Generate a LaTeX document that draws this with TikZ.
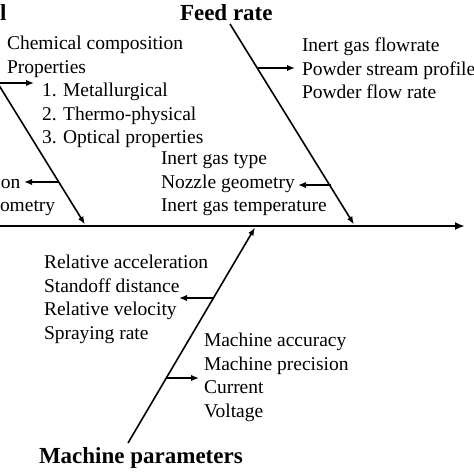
\documentclass[tikz,border=0pt]{standalone}
\usepackage{fontspec}
\setmainfont{Liberation Serif}
\usetikzlibrary{arrows.meta}
\tikzset{
  txt/.style={inner sep=0pt, outer sep=0pt, font=\fontsize{19.5}{23.4}\selectfont},
  cat/.style={inner sep=0pt, outer sep=0pt, font=\fontsize{23}{27}\selectfont\bfseries},
  spine/.style={line width=2pt, -{Latex[length=10pt,width=8pt]}},
  bone/.style={line width=1.6pt, -{Latex[length=8pt,width=6pt]}},
  sub/.style={line width=2pt, -{Latex[length=8pt,width=6.5pt]}}
}
\begin{document}
\begin{tikzpicture}[x=1pt,y=-1pt]
\useasboundingbox (0,0) rectangle (474,474);
\clip (0,0) rectangle (474,474);
\fill[white] (0,0) rectangle (474,474);

% category labels
\node[cat, anchor=base west] (matl) at (0,20) {l};
\node[cat, anchor=base west] (feed) at (180,20) {Feed rate};
\node[cat, anchor=base west] (mach) at (39,463) {Machine parameters};

% spine
\coordinate (s0) at (-5,226);
\coordinate (s1) at (465,226);
\draw[spine] (s0) -- (s1);

% main bones
\coordinate (b1a) at (-8,74);   \coordinate (b1b) at (85,224.5);
\coordinate (b2a) at (230,24);  \coordinate (b2b) at (354,224.5);
\coordinate (b3a) at (128,443); \coordinate (b3b) at (255,227.5);
\draw[bone] (b1a) -- (b1b);
\draw[bone] (b2a) -- (b2b);
\draw[bone] (b3a) -- (b3b);

% sub arrows
\coordinate (a1a) at (-3,83);  \coordinate (a1b) at (34,83);
\coordinate (a2a) at (59,182); \coordinate (a2b) at (24,182);
\coordinate (a3a) at (258,68); \coordinate (a3b) at (295,68);
\coordinate (a4a) at (331,185);\coordinate (a4b) at (298,185);
\coordinate (a5a) at (213,298);\coordinate (a5b) at (179,298);
\coordinate (a6a) at (166,378);\coordinate (a6b) at (199,378);
\draw[sub] (a1a) -- (a1b);
\draw[sub] (a2a) -- (a2b);
\draw[sub] (a3a) -- (a3b);
\draw[sub] (a4a) -- (a4b);
\draw[sub] (a5a) -- (a5b);
\draw[sub] (a6a) -- (a6b);

% texts top-left
\node[txt, anchor=base west] (t1) at (7,49.5) {Chemical composition};
\node[txt, anchor=base west] (t2) at (7,73) {Properties};
\node[txt, anchor=base west] (t3) at (42,96.5) {1. Metallurgical};
\node[txt, anchor=base west] (t4) at (42,120) {2. Thermo-physical};
\node[txt, anchor=base west] (t5) at (42,143.5) {3. Optical properties};

% fragments at left edge
\node[txt, anchor=base west] (f1) at (1,188) {on};
\node[txt, anchor=base west] (f2) at (0,211.5) {ometry};

% middle texts
\node[txt, anchor=base west] (m1) at (161,164.5) {Inert gas type};
\node[txt, anchor=base west] (m2) at (161,188) {Nozzle geometry};
\node[txt, anchor=base west] (m3) at (161,211.5) {Inert gas temperature};

% feed texts
\node[txt, anchor=base west] (r1) at (302,51.5) {Inert gas flowrate};
\node[txt, anchor=base west] (r2) at (302,75) {Powder stream profile};
\node[txt, anchor=base west] (r3) at (302,98.5) {Powder flow rate};

% lower-left texts
\node[txt, anchor=base west] (l1) at (44,268.5) {Relative acceleration};
\node[txt, anchor=base west] (l2) at (44,292) {Standoff distance};
\node[txt, anchor=base west] (l3) at (44,315.5) {Relative velocity};
\node[txt, anchor=base west] (l4) at (44,339) {Spraying rate};

% lower-right texts
\node[txt, anchor=base west] (k1) at (204,346.5) {Machine accuracy};
\node[txt, anchor=base west] (k2) at (204,370) {Machine precision};
\node[txt, anchor=base west] (k3) at (204,393.5) {Current};
\node[txt, anchor=base west] (k4) at (204,417) {Voltage};
\end{tikzpicture}
\end{document}
